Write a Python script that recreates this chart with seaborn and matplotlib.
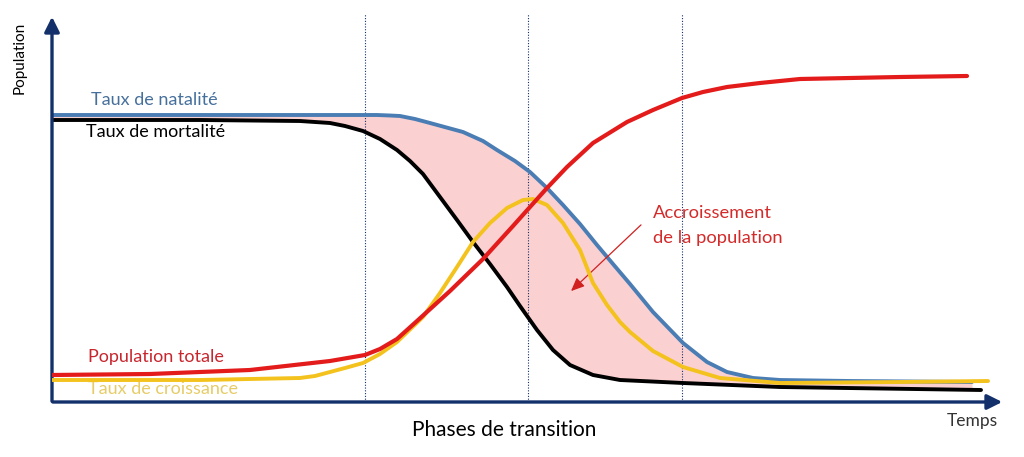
import numpy as np
import pandas as pd
import seaborn as sns
import matplotlib.pyplot as plt

# values (time, level), origin at the axes corner
natalite_t = [0, 148, 278, 325, 338, 348, 363, 378, 411, 431, 445, 463, 478, 495, 511, 528, 545,
              561, 578, 601, 631, 655, 675, 701, 728, 798, 920]
natalite_y = [287, 287, 287, 287, 286.5, 286, 283, 279, 270, 261, 252, 241, 230, 214, 197, 178, 157,
              138, 118, 90, 59, 40, 30, 24, 22, 21, 20]

mortalite_t = [0, 148, 248, 278, 293, 311, 328, 345, 358, 371, 388, 405, 421, 438, 455, 468, 485,
               501, 518, 541, 568, 631, 728, 929]
mortalite_y = [282, 282, 281, 279, 276, 271, 263, 252, 241, 228, 205, 182, 160, 138, 115, 96, 72,
               52, 37, 27, 22, 19, 15, 12]

pop_t = [0, 98, 198, 278, 313, 328, 345, 365, 398, 431, 461, 478, 495, 515, 541, 575, 601, 630,
         651, 675, 708, 748, 848, 915]
pop_y = [27, 28, 32, 41, 47, 53, 63, 81, 111, 143, 176, 195, 214, 235, 259, 280, 292, 304,
         310, 315, 319, 323, 325, 326]

croiss_t = [0, 148, 248, 263, 278, 293, 311, 328, 345, 371, 388, 405, 421, 438, 455, 471, 481, 495,
            511, 528, 541, 555, 568, 578, 601, 631, 668, 728, 848, 936]
croiss_y = [22, 22, 24, 26, 30, 34, 39, 48, 60, 85, 109, 135, 160, 179, 194, 202, 203, 197,
            179, 152, 119, 97, 80, 70, 51, 35, 24, 19, 20, 21]

phases = [313, 476, 630]

NAVY = "#14306b"
BLUE = "#4a7db4"
RED = "#e31b1b"
YELLOW = "#f3c21c"

sns.set_style("white")
plt.rcParams['font.family'] = ['Lato', 'DejaVu Sans']

fig = plt.figure(figsize=(10.24, 4.57), dpi=100)
ax = fig.add_axes([52 / 1024, 55 / 457, 972 / 1024, 402 / 457])
ax.set_xlim(0, 972)
ax.set_ylim(0, 402)
ax.axis("off")

# pink area between birth and death rates
grid = np.linspace(0, 920, 800)
b = np.interp(grid, natalite_t, natalite_y)
d = np.interp(grid, mortalite_t, mortalite_y)
ax.fill_between(grid, d, b, where=b >= d, color="#fbd0d1", lw=0, zorder=1)

for x in phases:
    ax.plot([x, x], [0, 388], color=NAVY, lw=0.8, ls=(0, (1, 1.5)), zorder=2)

sns.lineplot(x=natalite_t, y=natalite_y, ax=ax, color=BLUE, lw=2.8, zorder=3)
sns.lineplot(x=mortalite_t, y=mortalite_y, ax=ax, color="black", lw=2.8, zorder=3)
sns.lineplot(x=croiss_t, y=croiss_y, ax=ax, color=YELLOW, lw=2.8, zorder=4)
sns.lineplot(x=pop_t, y=pop_y, ax=ax, color=RED, lw=3.0, zorder=5)

# axes with arrows
ax.annotate("", xy=(953, 0), xytext=(-2, 0),
            arrowprops=dict(arrowstyle="-|>,head_length=0.9,head_width=0.45", color=NAVY, lw=2.4))
ax.annotate("", xy=(0, 388), xytext=(0, -2),
            arrowprops=dict(arrowstyle="-|>,head_length=0.9,head_width=0.45", color=NAVY, lw=2.4))

ax.text(39, 302, "Taux de natalité", color="#46709c", fontsize=13, va="center")
ax.text(34, 270, "Taux de mortalité", color="black", fontsize=13, va="center")
ax.text(36, 45, "Population totale", color="#c8262e", fontsize=13, va="center")
ax.text(36, 13, "Taux de croissance", color="#e6cc68", fontsize=13, va="center")
ax.text(601, 189, "Accroissement", color="#d42a2a", fontsize=13.2, va="center")
ax.text(601, 164, "de la population", color="#d42a2a", fontsize=13.2, va="center")
ax.annotate("", xy=(517, 109), xytext=(591, 179),
            arrowprops=dict(arrowstyle="-|>,head_length=0.8,head_width=0.35", color="#d02020", lw=0.9))
ax.text(452, -28, "Phases de transition", color="black", fontsize=15, ha="center", va="center")
ax.text(895, -19, "Temps", color="#333333", fontsize=12.5, va="center")
ax.text(-32, 344, "Population", color="black", fontsize=11, rotation=90, ha="center", va="center")

plt.savefig("out.png", dpi=100)
